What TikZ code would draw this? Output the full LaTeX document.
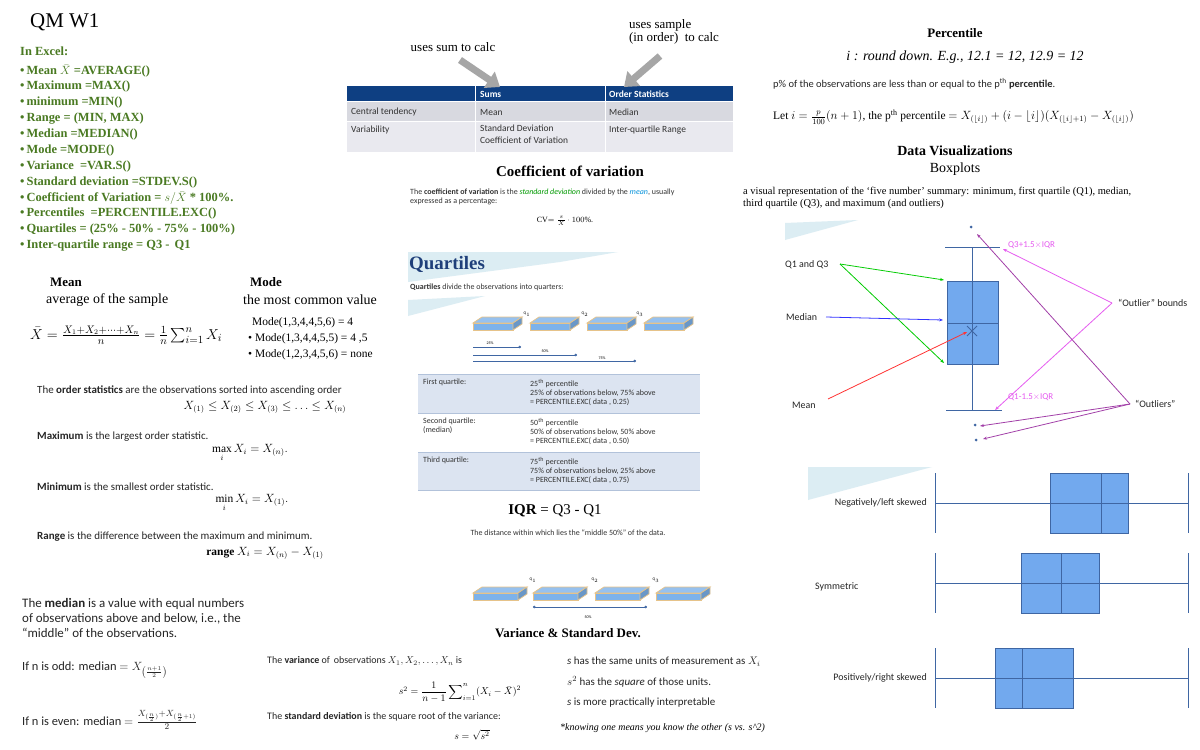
\documentclass[tikz,border=0pt]{standalone}
\usepackage{amsmath}
\usepackage{fontspec}
\setmainfont{Liberation Serif}
\newfontfamily\calfont{Carlito}
\usetikzlibrary{arrows.meta}
\definecolor{xgreen}{HTML}{4A7A22}
\definecolor{hdr}{HTML}{0E3F82}
\definecolor{rowa}{HTML}{D8D9E0}
\definecolor{rowb}{HTML}{E9E9EF}
\definecolor{qblue}{HTML}{DCE4F1}
\definecolor{wedge}{HTML}{DCEDF3}
\definecolor{boxf}{HTML}{72A9EE}
\definecolor{boxd}{HTML}{3F66A3}
\definecolor{slabf}{HTML}{7DB2EA}
\definecolor{slabe}{HTML}{E6C38A}
\definecolor{mag}{HTML}{E65CF0}
\definecolor{purp}{HTML}{A23FA8}
\definecolor{titleblue}{HTML}{1F3F7A}
\newcommand\fs[1]{\fontsize{#1}{#1}\selectfont}
\newcommand\slab[3]{%
 \fill[slabf!80!white,draw=slabe,line width=0.8pt] (#1,#2+6)--(#1+9,#2)--(#1+#3,#2)--(#1+#3-9,#2+6)--cycle;
 \fill[slabf,draw=slabe,line width=0.8pt] (#1,#2+6) rectangle (#1+#3-9,#2+13);
 \fill[slabf!85!black,draw=slabe,line width=0.8pt] (#1+#3-9,#2+6)--(#1+#3,#2)--(#1+#3,#2+7)--(#1+#3-9,#2+13)--cycle;}
\tikzset{
 grn/.style={anchor=west,text=xgreen,font=\fs{12.5}\bfseries,inner sep=0pt},
 sans/.style={anchor=west,font=\calfont\fs{11},inner sep=0pt,text=black!85},
 small/.style={anchor=west,font=\calfont\fs{8.5},inner sep=0pt,text=black!80},
 head/.style={font=\fs{15}\bfseries,inner sep=0pt},
 serif/.style={font=\fs{14},inner sep=0pt},
 gray arrow/.style={line width=7pt,gray!70,-{Triangle[length=13pt,width=19pt]}},
 whisk/.style={boxd,line width=1pt},
 bx/.style={fill=boxf,draw=boxd,line width=1pt},
}
\begin{document}
\begin{tikzpicture}[x=1bp,y=-1bp]
\useasboundingbox (0,0) rectangle (1200,750);
\fill[white] (0,0) rectangle (1200,750);
% ---- Title and Excel list
\node[anchor=west,font=\fs{21},inner sep=0pt] (title) at (30,22) {QM W1};
\node[grn] (ex0) at (20,51) {In Excel:};
\foreach \t [count=\i] in {{Mean $\bar X$ =AVERAGE()},{Maximum =MAX()},{minimum =MIN()},{Range = (MIN, MAX)},{Median =MEDIAN()},{Mode =MODE()},{Variance \ =VAR.S()},{Standard deviation =STDEV.S()}}
  \node[grn] (ex\i) at (20,55+16*\i) {\textbullet\,\t};
\node[grn] (ex9) at (20,198) {\textbullet\,Coefficient of Variation = $s/\bar X$ * 100\%.};
\node[grn] (ex10) at (20,214) {\textbullet\,Percentiles \ =PERCENTILE.EXC()};
\node[grn] (ex11) at (20,230) {\textbullet\,Quartiles = (25\% - 50\% - 75\% - 100\%)};
\node[grn] (ex12) at (20,246) {\textbullet\,Inter-quartile range = Q3 - \,Q1};
% ---- sums / order stats table
\node[serif,font=\fs{13}] (us1) at (453,47) {uses sum to calc};
\node[serif,font=\fs{13},align=left] (us2) at (674,32) {uses sample\\(in order) \ to calc};
\coordinate (a1s) at (460,60); \coordinate (a1e) at (500,87);
\coordinate (a2s) at (660,56); \coordinate (a2e) at (624,87);
\fill[hdr] (347,86) rectangle (733,101);
\fill[rowa] (347,101) rectangle (733,121);
\fill[rowb] (347,121) rectangle (733,152);
\draw[white,line width=0.8pt] (475,86)--(475,152) (605,86)--(605,152) (347,101)--(733,101) (347,121)--(733,121);
\draw[gray arrow] (a1s)--(a1e);
\draw[gray arrow] (a2s)--(a2e);
\node[small,font=\calfont\fs{9.5}\bfseries,text=white] (h1) at (480,94) {Sums};
\node[small,font=\calfont\fs{9.5}\bfseries,text=white] (h2) at (609,94) {Order Statistics};
\node[small,font=\calfont\fs{9.5}] (c11) at (351,112) {Central tendency};
\node[small,font=\calfont\fs{9.5}] (c12) at (480,112) {Mean};
\node[small,font=\calfont\fs{9.5}] (c13) at (609,112) {Median};
\node[small,font=\calfont\fs{9.5}] (c21) at (351,130) {Variability};
\node[small,font=\calfont\fs{9.5},align=left,anchor=north west] (c22) at (480,125) {Standard Deviation\\[2pt]Coefficient of Variation};
\node[small,font=\calfont\fs{9.5}] (c23) at (609,130) {Inter-quartile Range};
% ---- Coefficient of variation
\node[head] (cvt) at (570,171) {Coefficient of variation};
\node[small,anchor=north west,align=left,font=\calfont\fs{8}] (cvx) at (410,189) {The \textbf{coefficient of variation} is the \textcolor{green!60!black}{\itshape standard deviation} divided by the \textcolor{cyan!80!blue}{\itshape mean}, usually\\[1pt]expressed as a percentage:};
\node[font=\fs{8},inner sep=0pt] (cvf) at (565,221) {CV$=\frac{s}{\bar X}\cdot 100\%$.};
% ---- Quartiles
\fill[wedge] (408,252)--(618,252)--(560,262)--(408,282)--cycle;
\fill[wedge] (408,300)--(485,296)--(408,316)--cycle;
\node[anchor=west,font=\fs{19}\bfseries,text=titleblue,inner sep=0pt] (qt) at (409,264) {Quartiles};
\node[small,font=\calfont\fs{8}] (qd) at (410,287) {\textbf{Quartiles} divide the observations into quarters:};
\slab{473}{317}{49} \slab{530}{317}{49} \slab{587}{317}{49} \slab{644}{317}{49}
\foreach \x/\n in {527/1,585/2,640/3} \node[font=\calfont\fs{4},inner sep=0pt] (q\n) at (\x,314) {Q$_\n$};
\coordinate (p0) at (473,347); \coordinate (p1) at (521,347);
\coordinate (p2) at (473,355); \coordinate (p3) at (577,355);
\coordinate (p4) at (473,361); \coordinate (p5) at (636,361);
\draw[boxd,-{Circle[length=2.5pt]}] (p0)--(p1); \draw[boxd,-{Circle[length=2.5pt]}] (p2)--(p3); \draw[boxd,-{Circle[length=2.5pt]}] (p4)--(p5);
\node[font=\calfont\fs{4},inner sep=0pt] (l25) at (490,343) {25\%};
\node[font=\calfont\fs{4},inner sep=0pt] (l50) at (545,351) {50\%};
\node[font=\calfont\fs{4},inner sep=0pt] (l75) at (602,358) {75\%};
\fill[qblue] (418,374) rectangle (700,413);
\fill[qblue] (418,452) rectangle (700,490);
\draw[boxd!40,line width=1pt] (418,374)--(700,374) (418,413)--(700,413) (418,452)--(700,452) (418,490)--(700,490);
\tikzset{qt/.style={anchor=north west,align=left,font=\calfont\fs{8},inner sep=0pt,text=black!80}}
\node[qt] (r1a) at (423,379) {First quartile:};
\node[qt] (r1b) at (530,379) {25$^{\text{th}}$ percentile\\[1pt]25\% of observations below, 75\% above\\[1pt]= PERCENTILE.EXC( data , 0.25)};
\node[qt] (r2a) at (423,418) {Second quartile:\\[1pt](median)};
\node[qt] (r2b) at (530,418) {50$^{\text{th}}$ percentile\\[1pt]50\% of observations below, 50\% above\\[1pt]= PERCENTILE.EXC( data , 0.50)};
\node[qt] (r3a) at (423,457) {Third quartile:};
\node[qt] (r3b) at (530,457) {75$^{\text{th}}$ percentile\\[1pt]75\% of observations below, 25\% above\\[1pt]= PERCENTILE.EXC( data , 0.75)};
% ---- IQR
\node[serif,font=\fs{15}] (iqr) at (555,511) {\textbf{IQR} = Q3 - Q1};
\node[small,anchor=center,font=\calfont\fs{8}] (iqd) at (568,533) {The distance within which lies the “middle 50\%” of the data.};
\slab{473}{587}{54} \slab{533}{587}{54} \slab{595}{587}{54} \slab{656}{587}{54}
\foreach \x/\n in {533/1,595/2,656/3} \node[font=\calfont\fs{4},inner sep=0pt] (qq\n) at (\x,580) {Q$_\n$};
\coordinate (m0) at (533,607); \coordinate (m1) at (647,607);
\draw[boxd,{Circle[length=2.5pt]}-{Circle[length=2.5pt]}] (m0)--(m1);
\node[font=\calfont\fs{4},inner sep=0pt] (l50b) at (588,617) {50\%};
% ---- Variance
\node[head,font=\fs{13}\bfseries] (vt) at (568,633) {Variance \& Standard Dev.};
\node[sans] (s1) at (567,662) {\textit{s} has the same units of measurement as $X_i$};
\node[sans] (s2) at (567,682) {$s^2$ has the \textit{square} of those units.};
\node[sans] (s3) at (567,703) {\textit{s} is more practically interpretable};
\node[anchor=west,font=\fs{10}\itshape,inner sep=0pt] (kn) at (560,728) {*knowing one means you know the other (s vs. s\^{}2)};
\node[sans,font=\calfont\fs{10}] (v1) at (267,661) {The \textbf{variance} of \,observations $X_1,X_2,\dots,X_n$ is};
\node[font=\fs{10},inner sep=0pt] (v2) at (460,692) {$s^2=\dfrac{1}{n-1}\displaystyle\sum\nolimits_{i=1}^{n}(X_i-\bar X)^2$};
\node[sans,font=\calfont\fs{10}] (v3) at (267,717) {The \textbf{standard deviation} is the square root of the variance:};
\node[font=\fs{10},inner sep=0pt] (v4) at (472,735) {$s=\sqrt{s^2}$};
% ---- Mean / Mode
\node[anchor=west,font=\fs{13}\bfseries,inner sep=0pt] (mt) at (50,282) {Mean};
\node[anchor=west,font=\fs{14},inner sep=0pt] (ms) at (46,300) {average of the sample};
\node[anchor=west,font=\fs{15},inner sep=0pt] (mf) at (30,335) {$\bar X=\frac{X_1+X_2+\cdots+X_n}{n}=\frac{1}{n}\sum_{i=1}^{n}X_i$};
\node[anchor=west,font=\fs{13}\bfseries,inner sep=0pt] (mot) at (250,282) {Mode};
\node[anchor=west,font=\fs{14},inner sep=0pt] (mos) at (243,300) {the most common value};
\node[anchor=west,font=\fs{11.5},inner sep=0pt] (mo1) at (252,323) {Mode(1,3,4,4,5,6) = 4};
\node[anchor=west,font=\fs{11.5},inner sep=0pt] (mo2) at (248,339) {\textbullet\ Mode(1,3,4,4,5,5) = 4 ,5};
\node[anchor=west,font=\fs{11.5},inner sep=0pt] (mo3) at (248,355) {\textbullet\ Mode(1,2,3,4,5,6) = none};
% ---- order statistics
\node[sans] (o1) at (37,391) {The \textbf{order statistics} are the observations sorted into ascending order};
\node[font=\fs{11.5},inner sep=0pt] (o2) at (265,407) {$X_{(1)}\le X_{(2)}\le X_{(3)}\le\ldots\le X_{(n)}$};
\node[sans] (o3) at (37,437) {\textbf{Maximum} is the largest order statistic.};
\node[font=\fs{11.5},inner sep=0pt] (o4) at (250,453) {$\max\limits_i X_i=X_{(n)}.$};
\node[sans] (o5) at (37,487) {\textbf{Minimum} is the smallest order statistic.};
\node[font=\fs{11.5},inner sep=0pt] (o6) at (252,503) {$\min\limits_i X_i=X_{(1)}.$};
\node[sans] (o7) at (37,537) {\textbf{Range} is the difference between the maximum and minimum.};
\node[font=\fs{11.5},inner sep=0pt] (o8) at (265,553) {\textbf{range} $X_i=X_{(n)}-X_{(1)}$};
% ---- median
\node[sans,font=\calfont\fs{13},anchor=north west,align=left] (md) at (22,598) {The \textbf{median} is a value with equal numbers\\[2pt]of observations above and below, i.e., the\\[2pt]“middle” of the observations.};
\node[sans,font=\calfont\fs{12.5}] (odd) at (22,670) {If n is odd: median $=X_{\left(\frac{n+1}{2}\right)}$};
\node[sans,font=\calfont\fs{12.5}] (even) at (22,720) {If n is even: median $=\frac{X_{(\frac n2)}+X_{(\frac n2+1)}}{2}$};
% ---- Percentile
\node[head,font=\fs{13}\bfseries] (pt) at (955,33) {Percentile};
\node[font=\fs{14}\itshape,inner sep=0pt] (pi) at (965,57) {i : round down. E.g., 12.1 = 12, 12.9 = 12};
\node[sans,font=\calfont\fs{10.5}] (pp) at (773,84) {p\% of the observations are less than or equal to the p$^{\text{th}}$ \textbf{percentile}.};
\node[anchor=west,font=\fs{11.5},inner sep=0pt] (pf) at (773,117) {Let $i=\frac{p}{100}(n+1)$, the p$^{\text{th}}$ percentile $=X_{(\lfloor i\rfloor)}+(i-\lfloor i\rfloor)(X_{(\lfloor i\rfloor+1)}-X_{(\lfloor i\rfloor)})$};
% ---- Data visualizations
\node[head,font=\fs{14}\bfseries] (dv) at (955,151) {Data Visualizations};
\node[serif,font=\fs{14}] (bp) at (955,169) {Boxplots};
\node[anchor=north west,align=left,font=\fs{10.5},inner sep=0pt] (bd) at (743,187) {a visual representation of the ‘five number’ summary: minimum, first quartile (Q1), median,\\[1pt]third quartile (Q3), and maximum (and outliers)};
\fill[wedge] (785,223)--(858,220)--(785,240)--cycle;
\draw[whisk] (972,247)--(972,410);
\draw[bx] (947,281) rectangle (998,364);
\draw[whisk] (947,323)--(998,323) (972,281)--(972,364);
\draw[whisk] (945,247)--(1000,247) (946,410)--(1002,410);
\draw[boxd,line width=0.8pt] (967,326)--(977,336) (967,336)--(977,326);
\fill[boxd] (971,227) circle (1.5) (975,425) circle (1.5) (976,440) circle (1.5);
\node[sans,font=\calfont\fs{10}] (lq) at (785,265) {Q1 and Q3};
\node[sans,font=\calfont\fs{10}] (lm) at (786,317) {Median};
\node[sans,font=\calfont\fs{10}] (lmean) at (792,405) {Mean};
\node[sans,font=\calfont\fs{9},text=mag] (lu) at (1008,245) {Q3+1.5$\times$IQR};
\node[sans,font=\calfont\fs{9},text=mag] (ll) at (1008,397) {Q1-1.5$\times$IQR};
\node[sans,font=\calfont\fs{10}] (lob) at (1118,303) {“Outlier” bounds};
\node[sans,font=\calfont\fs{10}] (lo) at (1135,404) {“Outliers”};
\coordinate (gq) at (840,264); \coordinate (gq1) at (944,280); \coordinate (gq2) at (944,363);
\draw[green!80!black,line width=0.8pt,-{Stealth[length=4pt]}] (gq)--(gq1);
\draw[green!80!black,line width=0.8pt,-{Stealth[length=4pt]}] (gq)--(gq2);
\coordinate (bm0) at (826,317); \coordinate (bm1) at (943,320);
\draw[blue!80,line width=0.8pt,-{Stealth[length=4pt]}] (bm0)--(bm1);
\coordinate (rm0) at (828,399); \coordinate (rm1) at (967,332);
\draw[red!80,line width=0.8pt,-{Stealth[length=4pt]}] (rm0)--(rm1);
\coordinate (ob) at (1112,303); \coordinate (ob1) at (1003,249); \coordinate (ob2) at (995,410);
\draw[mag,line width=0.8pt,-{Stealth[length=4pt]}] (ob)--(ob1);
\draw[mag,line width=0.8pt,-{Stealth[length=4pt]}] (ob)--(ob2);
\coordinate (oo) at (1130,404); \coordinate (oo1) at (977,234); \coordinate (oo2) at (980,426); \coordinate (oo3) at (983,439);
\draw[purp,line width=0.8pt,-{Stealth[length=4pt]}] (oo)--(oo1);
\draw[purp,line width=0.8pt,-{Stealth[length=4pt]}] (oo)--(oo2);
\draw[purp,line width=0.8pt,-{Stealth[length=4pt]}] (oo)--(oo3);
% ---- skew boxplots
\fill[wedge] (808,467)--(932,467)--(808,500)--cycle;
\foreach \yc/\a/\m/\b in {503/1050/1101/1128, 583/1021/1061/1099, 678/995/1022/1073}{
  \draw[whisk] (935,\yc-30)--(935,\yc+30) (1188,\yc-30)--(1188,\yc+30) (935,\yc)--(\a,\yc) (\b,\yc)--(1188,\yc);
  \draw[bx] (\a,\yc-30) rectangle (\b,\yc+30);
  \draw[whisk] (\m,\yc-30)--(\m,\yc+30) (\a,\yc)--(\b,\yc);
}
\node[sans,font=\calfont\fs{10},anchor=east] (sk1) at (927,503) {Negatively/left skewed};
\node[sans,font=\calfont\fs{10}] (sk2) at (815,587) {Symmetric};
\node[sans,font=\calfont\fs{10},anchor=east] (sk3) at (927,678) {Positively/right skewed};
\end{tikzpicture}
\end{document}
